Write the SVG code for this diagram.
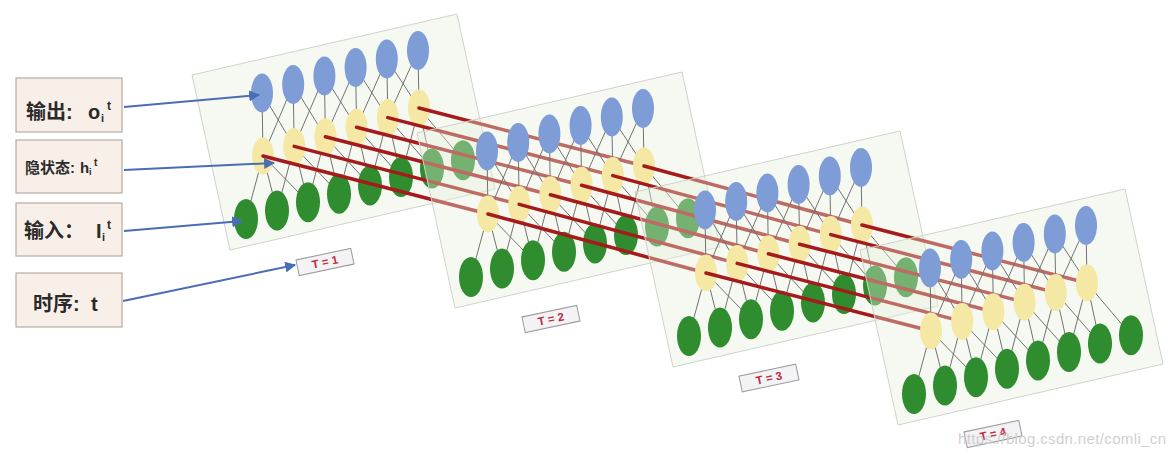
<svg xmlns="http://www.w3.org/2000/svg" xmlns:xlink="http://www.w3.org/1999/xlink" width="1173" height="455" viewBox="0 0 1173 455">
<style>
.bg{fill:#e8f0dd;fill-opacity:0.38;stroke:#cfd3ca;stroke-width:1}
.wire{fill:none;stroke:#727272;stroke-width:1}
.blue{fill:#7e9dd6}
.yel{fill:#f4e8a4}
.grn{fill:#2f8c2f}
.rec{stroke:#a51a1a;stroke-width:3.5;stroke-linecap:round}
.lbox{fill:#f8efe8;stroke:#b5aca4;stroke-width:1.2}
.lbl{font-family:"Liberation Sans","Noto Sans CJK SC",sans-serif;font-weight:bold;fill:#2a2a2a}
.arr{fill:none;stroke:#4a6db5;stroke-width:2}
.tbox{fill:#f3f2f5;stroke:#9a9a9a;stroke-width:1}
.tlbl{font-family:"Liberation Sans",sans-serif;font-weight:bold;font-size:11.5px;fill:#c02a40;text-anchor:middle}
.wm{font-family:"Liberation Sans",sans-serif;font-size:15px;fill:#cfcfcf}
</style>
<defs>
<marker id="ah" viewBox="0 0 10 10" refX="9" refY="5" markerWidth="5.5" markerHeight="5.5" orient="auto" markerUnits="strokeWidth">
<path d="M0 0L10 5L0 10z" fill="#4a6db5"/>
</marker>
<g id="panelTpl">
<polygon class="bg" points="192,75 457,14 495,189 230,250"/>
<path class="wire" d="M262 93L263 156M262 93L294.2 146.4M293.2 84.5L263 156M293.2 84.5L294.2 146.4M293.2 84.5L325.4 136.8M324.4 76L294.2 146.4M324.4 76L325.4 136.8M324.4 76L356.6 127.2M355.6 67.5L325.4 136.8M355.6 67.5L356.6 127.2M355.6 67.5L387.8 117.6M386.8 59L356.6 127.2M386.8 59L387.8 117.6M386.8 59L419 108M418 50.5L387.8 117.6M418 50.5L419 108M263 156L246 219M263 156L277 210.6M263 156L308 202.2M294.2 146.4L277 210.6M294.2 146.4L308 202.2M294.2 146.4L339 193.8M325.4 136.8L308 202.2M325.4 136.8L339 193.8M325.4 136.8L370 185.4M356.6 127.2L339 193.8M356.6 127.2L370 185.4M356.6 127.2L401 177M387.8 117.6L370 185.4M387.8 117.6L401 177M387.8 117.6L432 168.6M419 108L401 177M419 108L432 168.6M419 108L463 160.2"/>
<g class="blue">
<ellipse cx="262" cy="93" rx="11" ry="19.5"/>
<ellipse cx="293.2" cy="84.5" rx="11" ry="19.5"/>
<ellipse cx="324.4" cy="76" rx="11" ry="19.5"/>
<ellipse cx="355.6" cy="67.5" rx="11" ry="19.5"/>
<ellipse cx="386.8" cy="59" rx="11" ry="19.5"/>
<ellipse cx="418" cy="50.5" rx="11" ry="19.5"/>
</g>
<g class="yel">
<ellipse cx="263" cy="156" rx="11" ry="18.5"/>
<ellipse cx="294.2" cy="146.4" rx="11" ry="18.5"/>
<ellipse cx="325.4" cy="136.8" rx="11" ry="18.5"/>
<ellipse cx="356.6" cy="127.2" rx="11" ry="18.5"/>
<ellipse cx="387.8" cy="117.6" rx="11" ry="18.5"/>
<ellipse cx="419" cy="108" rx="11" ry="18.5"/>
</g>
<g class="grn">
<ellipse cx="246" cy="219" rx="12" ry="20"/>
<ellipse cx="277" cy="210.6" rx="12" ry="20"/>
<ellipse cx="308" cy="202.2" rx="12" ry="20"/>
<ellipse cx="339" cy="193.8" rx="12" ry="20"/>
<ellipse cx="370" cy="185.4" rx="12" ry="20"/>
<ellipse cx="401" cy="177" rx="12" ry="20"/>
<ellipse cx="432" cy="168.6" rx="12" ry="20"/>
<ellipse cx="463" cy="160.2" rx="12" ry="20"/>
</g>
</g>
</defs>

<g id="timeline">
<g id="panel-t1">
<use href="#panelTpl"/>
<g transform="translate(325,262) rotate(-12)"><rect class="tbox" x="-28" y="-8" width="56" height="16"/><text class="tlbl" y="4">T = 1</text></g>
</g>
<g id="links-t1-t2" class="rec">
<line x1="263" y1="156" x2="488" y2="214"/>
<line x1="294.2" y1="146.4" x2="519.2" y2="204.4"/>
<line x1="325.4" y1="136.8" x2="550.4" y2="194.8"/>
<line x1="356.6" y1="127.2" x2="581.6" y2="185.2"/>
<line x1="387.8" y1="117.6" x2="612.8" y2="175.6"/>
<line x1="419" y1="108" x2="644" y2="166"/>
</g>
<g id="panel-t2">
<use href="#panelTpl" transform="translate(225,58)"/>
<g transform="translate(551,319) rotate(-12)"><rect class="tbox" x="-28" y="-8" width="56" height="16"/><text class="tlbl" y="4">T = 2</text></g>
</g>
<g id="links-t2-t3" class="rec">
<line x1="488" y1="214" x2="706" y2="273"/>
<line x1="519.2" y1="204.4" x2="737.2" y2="263.4"/>
<line x1="550.4" y1="194.8" x2="768.4" y2="253.8"/>
<line x1="581.6" y1="185.2" x2="799.6" y2="244.2"/>
<line x1="612.8" y1="175.6" x2="830.8" y2="234.6"/>
<line x1="644" y1="166" x2="862" y2="225"/>
</g>
<g id="panel-t3">
<use href="#panelTpl" transform="translate(443,117)"/>
<g transform="translate(769,378) rotate(-12)"><rect class="tbox" x="-29" y="-8" width="58" height="16"/><text class="tlbl" y="4">T = 3</text></g>
</g>
<g id="links-t3-t4" class="rec">
<line x1="706" y1="273" x2="931" y2="331"/>
<line x1="737.2" y1="263.4" x2="962.2" y2="321.4"/>
<line x1="768.4" y1="253.8" x2="993.4" y2="311.8"/>
<line x1="799.6" y1="244.2" x2="1024.6" y2="302.2"/>
<line x1="830.8" y1="234.6" x2="1055.8" y2="292.6"/>
<line x1="862" y1="225" x2="1087" y2="283"/>
</g>
<g id="panel-t4">
<use href="#panelTpl" transform="translate(668,175)"/>
<g transform="translate(993,434) rotate(-12)"><rect class="tbox" x="-28" y="-8" width="56" height="16"/><text class="tlbl" y="4">T = 4</text></g>
</g>
</g>

<g id="legend-output">
<rect class="lbox" x="16" y="78" width="106" height="54"/>
<text class="lbl" x="26" y="119" font-size="20">输出:<tspan x="88">o</tspan><tspan font-size="11" x="101" dy="3">i</tspan><tspan font-size="12" x="107" dy="-12">t</tspan></text>
</g>
<g id="legend-hidden">
<rect class="lbox" x="16" y="140" width="106" height="53"/>
<text class="lbl" x="25" y="173" font-size="15">隐状态:<tspan x="80">h</tspan><tspan font-size="9" x="89" dy="2">i</tspan><tspan font-size="10" x="94" dy="-9">t</tspan></text>
</g>
<g id="legend-input">
<rect class="lbox" x="16" y="203" width="106" height="53"/>
<text class="lbl" x="24" y="238" font-size="20">输入：<tspan x="96">I</tspan><tspan font-size="11" x="102" dy="3">i</tspan><tspan font-size="12" x="107" dy="-12">t</tspan></text>
</g>
<g id="legend-time">
<rect class="lbox" x="16" y="273" width="106" height="54"/>
<text class="lbl" x="33" y="311" font-size="20">时序:<tspan x="91">t</tspan></text>
</g>

<g id="connectors">
<line class="arr" x1="124" y1="107" x2="259" y2="95" marker-end="url(#ah)"/>
<line class="arr" x1="124" y1="170" x2="274" y2="163" marker-end="url(#ah)"/>
<line class="arr" x1="124" y1="231" x2="242" y2="221" marker-end="url(#ah)"/>
<line class="arr" x1="123" y1="301" x2="295" y2="265" marker-end="url(#ah)"/>
</g>

<text class="wm" x="958" y="444" textLength="208">https://blog.csdn.net/comli_cn</text>
</svg>
